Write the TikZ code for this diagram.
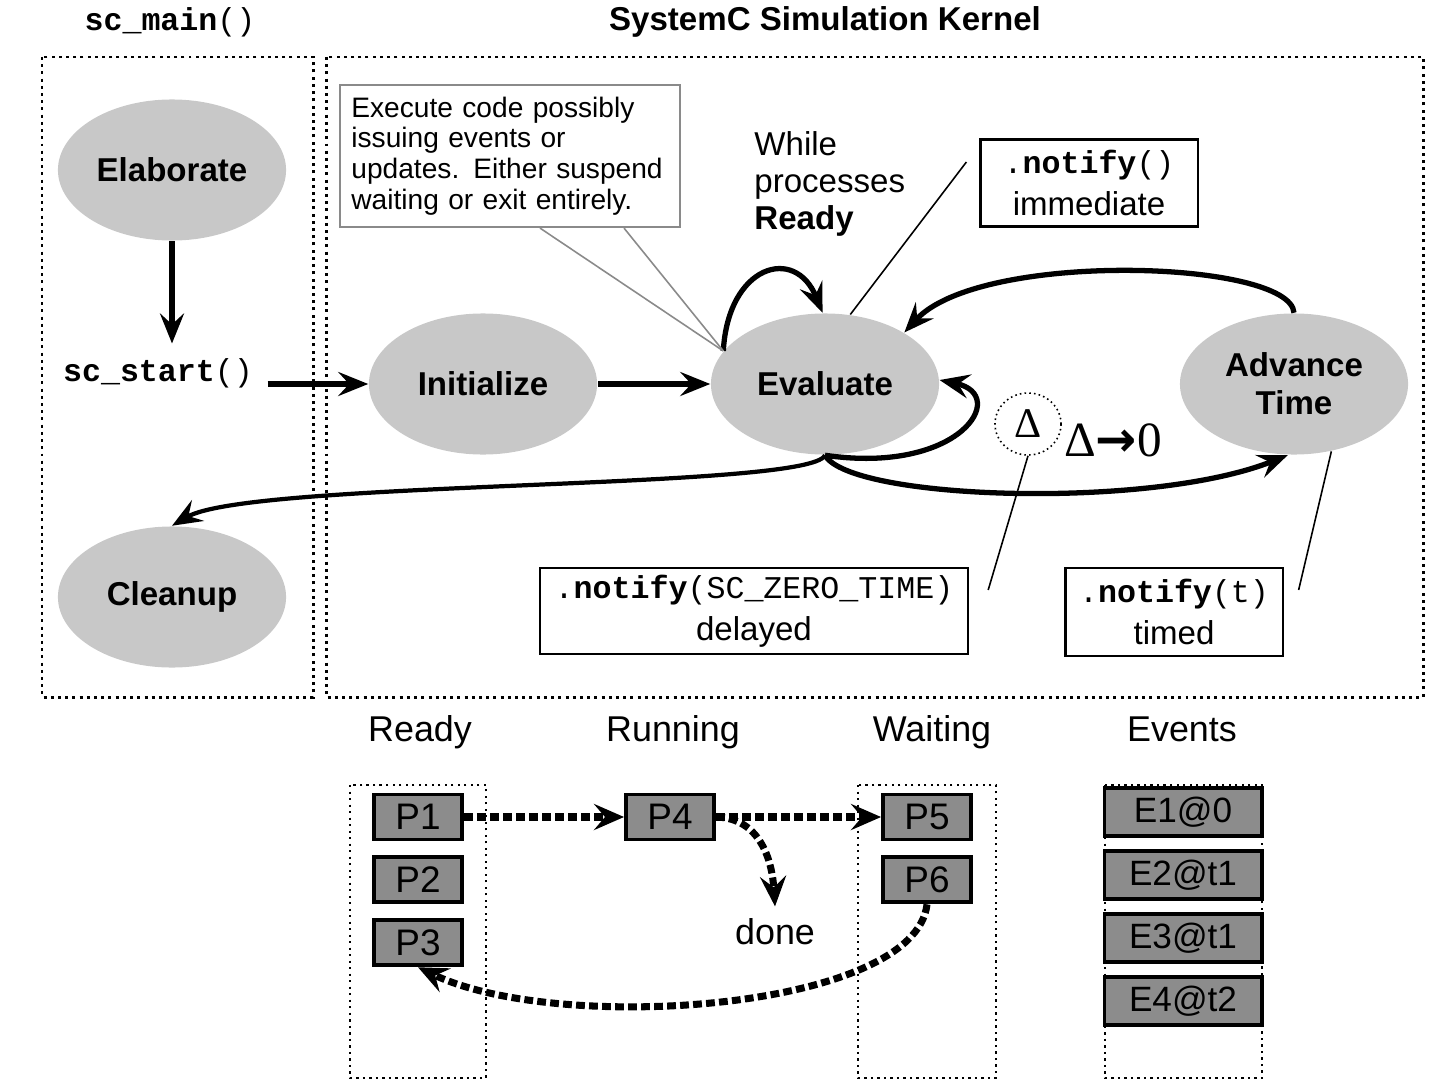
\documentclass[tikz,border=0pt]{standalone}
\usepackage{fontspec}
\setmainfont{Liberation Sans}
\setmonofont{Liberation Mono}
\newfontfamily\serifdelta{Liberation Serif}
\newfontfamily\arrowfont{DejaVu Sans}
\usetikzlibrary{arrows.meta, positioning, shapes.geometric, calc}
\definecolor{cstate}{HTML}{C8C8C8}
\definecolor{cproc}{HTML}{8C8C8C}
\definecolor{clead}{HTML}{8A8A8A}
\newcommand{\fsz}[2]{\fontsize{#1}{#2}\selectfont}
\newcommand{\ttcall}[3]{{\ttfamily\fsz{9}{12}#1\textbf{#2}#3}}
\tikzset{
  every picture/.style={x=0.01cm, y=-0.01cm},
  state/.style={ellipse, fill=cstate, minimum width=2.28cm, minimum height=1.41cm, inner sep=0pt, align=center, font=\bfseries\fsz{9.4}{10.8}},
  frame/.style={line width=0.85pt, dash pattern=on 0.85pt off 1.2pt},
  colframe/.style={line width=0.65pt, dash pattern=on 0.65pt off 1.2pt},
  note/.style={draw, line width=0.6pt, align=center, inner sep=0pt, font=\fsz{9.4}{12}},
  flow/.style={-{Stealth[length=3mm, width=2.4mm, inset=1.1mm]}, line width=1.5pt},
  lead/.style={line width=0.45pt},
  proc/.style={draw, fill=cproc, line width=1.1pt, minimum width=0.88cm, minimum height=0.45cm, inner sep=0pt, font=\fsz{10.5}{12}},
  evbox/.style={proc, minimum width=1.57cm, minimum height=0.48cm, font=\fsz{10}{12}},
  move/.style={-{Stealth[length=3mm, width=2.6mm, inset=1.1mm]}, line width=2pt, dash pattern=on 2.5pt off 1.2pt},
  collabel/.style={font=\fsz{10.2}{12}},
}
\begin{document}
\begin{tikzpicture}
  \useasboundingbox (0,0) rectangle (1440,1082);
  % the two dotted frames
  \draw[frame] (42,57) rectangle (313,697);
  \draw[frame] (326,57) rectangle (1423,697);
  \node (mainlbl) at (170,22) {\ttcall{}{sc\_main}{()}};
  \node[font=\bfseries\fsz{9.4}{11}] (kernel) at (825,22) {SystemC Simulation Kernel};

  % states
  \node[state] (elab) at (172,170) {Elaborate};
  \node[state] (clean) at (172,597) {Cleanup};
  \node[state] (init) at (483,384) {Initialize};
  \node[state] (eval) at (825,384) {Evaluate};
  \node[state] (adv) at (1294,384) {Advance\\Time};
  \node[inner sep=4pt] (start) at (158,373) {\ttcall{}{sc\_start}{()}};

  % notes
  \node[note, draw=clead, align=left, text width=3.17cm, inner xsep=0.11cm, minimum height=1.42cm, font=\fsz{8}{8.7}] (execnote) at (510,156)
    {Execute code possibly\\issuing events or\\updates. Either suspend\\waiting or exit entirely.};
  \node[align=left, anchor=west, font=\fsz{9.4}{10.4}] (whilenote) at (742,184) {While\\processes\\\textbf{Ready}};
  \node[note, minimum width=2.17cm, minimum height=0.87cm] (immnote) at (1089,183) {\ttcall{.}{notify}{()}\\immediate};
  \node[note, minimum width=4.28cm, minimum height=0.86cm] (delnote) at (754,611) {\ttcall{.}{notify}{(SC\_ZERO\_TIME)}\\delayed};
  \node[note, minimum width=2.17cm, minimum height=0.88cm] (timnote) at (1174,612) {\ttcall{.}{notify}{(t)}\\timed};
  \node[draw, ellipse, line width=0.45pt, dash pattern=on 0.45pt off 0.9pt, minimum width=0.66cm, minimum height=0.62cm, inner sep=0pt, font=\serifdelta\fsz{12}{12}] (dcirc) at (1028,424) {Δ};
  \node[font=\serifdelta\fsz{14}{16}] (dlimit) at (1113,440) {Δ{\arrowfont\bfseries →}0};

  % kernel flow
  \draw[flow] (elab.south) -- (elab.south |- start.north);
  \draw[flow] (start.east |- init) -- (init);
  \draw[flow] (init) -- (eval);
  \draw[flow] (eval.162) .. controls (728,265) and (795,245) .. (eval.92);
  \draw[flow] (adv.north) .. controls (1290,260) and (980,250) .. (eval.33);
  \draw[flow] (eval.south) .. controls (850,500) and (1150,510) .. (adv.265);
  \draw[flow] (eval.south) .. controls (960,475) and (1010,395) .. (eval.2);
  \draw[flow, line width=1.2pt] (eval.south) .. controls (810,490) and (250,480) .. (clean.north);

  % pointer lines
  \draw[lead, draw=clead] ($(execnote.south)+(30,0)$) -- (eval.162);
  \draw[lead, draw=clead] ($(execnote.south)+(114,0)$) -- (eval.162);
  \draw[lead] ($(immnote.west)+(-13,-21)$) -- (eval.70);
  \draw[lead] ($(delnote.east)+(19,-21)$) -- (dcirc.south);
  \draw[lead] ($(timnote.east)+(15,-22)$) -- (adv.299);

  % process queues
  \node[collabel] (readylbl) at (420,732) {Ready};
  \node[collabel] (runlbl) at (673,732) {Running};
  \node[collabel] (waitlbl) at (932,732) {Waiting};
  \node[collabel] (evlbl) at (1182,729) {Events};
  \draw[colframe] (350,785) rectangle (486,1078);
  \draw[colframe] (858,785) rectangle (996,1078);
  \draw[colframe] (1105,785) rectangle (1262,1078);

  \node[proc] (p1) at (418,817) {P1};
  \node[proc, below=0.14cm of p1] (p2) {P2};
  \node[proc, below=0.14cm of p2] (p3) {P3};
  \node[proc] (p4) at (670,817) {P4};
  \node[proc] (p5) at (927,817) {P5};
  \node[proc, below=0.14cm of p5] (p6) {P6};
  \node[collabel] (done) at (775,932) {done};

  \node[evbox] (e1) at (1183,812) {E1@0};
  \node[evbox, below=0.11cm of e1] (e2) {E2@t1};
  \node[evbox, below=0.11cm of e2] (e3) {E3@t1};
  \node[evbox, below=0.11cm of e3] (e4) {E4@t2};

  \draw[move] (p1) -- (p4);
  \draw[move] (p4) -- (p5);
  \draw[move] (p4.east) .. controls (760,818) and (772,860) .. (done.north);
  \draw[move] (p6.south) .. controls (915,1010) and (560,1035) .. (p3.south);
\end{tikzpicture}
\end{document}
